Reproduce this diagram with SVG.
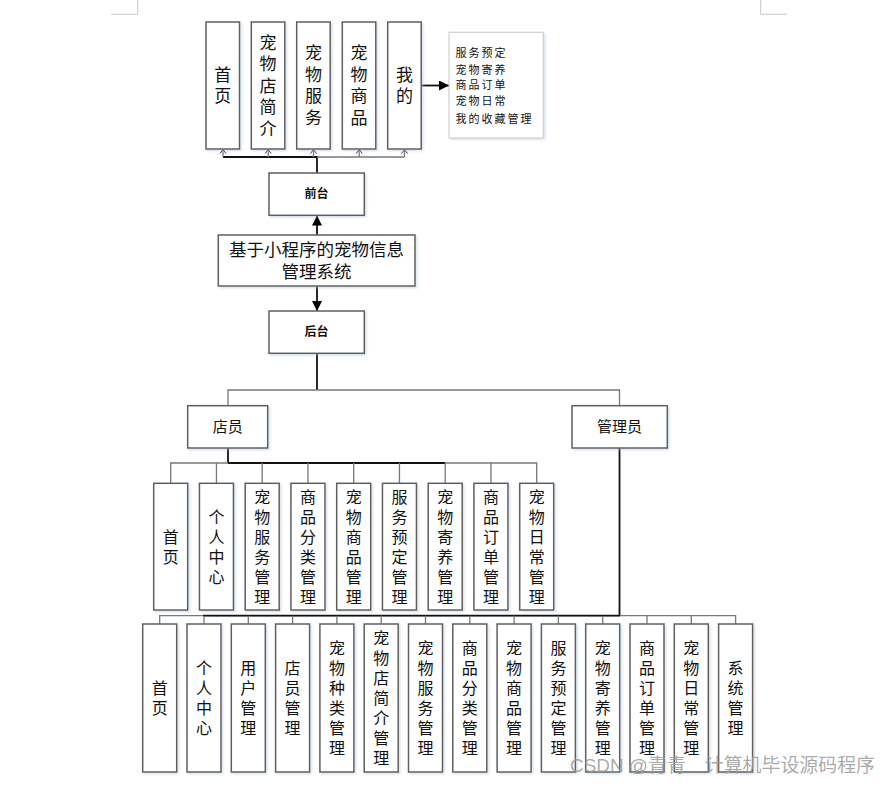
<svg xmlns="http://www.w3.org/2000/svg" width="890" height="786" viewBox="0 0 890 786">
<style>
.box{fill:#fff;stroke:#5f5f5f;stroke-width:1.5;filter:url(#sh)}
.note{fill:#fff;stroke:#c9c9c9;stroke-width:1;filter:url(#sh)}
.t{font-family:"Liberation Serif","Noto Sans CJK SC",serif;fill:#111;text-anchor:middle;dominant-baseline:central}
.top{font-size:17px}
.row{font-size:16px}
.lbl{font-size:15px}
.small{font-size:12px;font-weight:bold}
.main{font-size:17.5px}
.nt{font-family:"Liberation Sans","Noto Sans CJK SC",sans-serif;font-size:11px;letter-spacing:2px;fill:#111;dominant-baseline:central}
.g{stroke:#777;stroke-width:1.3;fill:none}
.k{stroke:#111;stroke-width:1.8;fill:none}
.corner{stroke:#c8c8c8;stroke-width:1;fill:none}
.wm{font-family:"Liberation Sans","Noto Sans CJK SC",sans-serif;font-size:19px;fill:#9a9a9a;fill-opacity:0.85}
</style>
<defs>
<filter id="sh" x="-20%" y="-20%" width="140%" height="140%">
<feDropShadow dx="1.5" dy="1.5" stdDeviation="1" flood-color="#a9bfd6" flood-opacity="0.45"/>
</filter>
<marker id="open" markerWidth="7" markerHeight="8" refX="5.5" refY="4" orient="auto" markerUnits="userSpaceOnUse" viewBox="0 0 7 8">
<path d="M1.5,1 L5.5,4 L1.5,7" fill="none" stroke="#333" stroke-width="1"/>
</marker>
<marker id="fill" markerWidth="10" markerHeight="10" refX="10" refY="5" orient="auto" markerUnits="userSpaceOnUse" viewBox="0 0 10 10">
<path d="M0,0 L10,5 L0,10 Z" fill="#000"/>
</marker>
</defs>
<rect width="890" height="786" fill="#fff"/>
<g id="corners">
<path class="corner" d="M137.7,0 V14.3 H111"/>
<path class="corner" d="M760.7,0 V14.3 H786.7"/>
</g>
<g id="connectors">
<path class="k" d="M317,173 V157 H223"/>
<path class="g" d="M317,157 H404.5"/>
<line class="g" x1="223" y1="157" x2="223" y2="149.5" marker-end="url(#open)"/>
<line class="g" x1="268.2" y1="157" x2="268.2" y2="149.5" marker-end="url(#open)"/>
<line class="g" x1="313.5" y1="157" x2="313.5" y2="149.5" marker-end="url(#open)"/>
<line class="g" x1="359.2" y1="157" x2="359.2" y2="149.5" marker-end="url(#open)"/>
<line class="g" x1="404.5" y1="157" x2="404.5" y2="149.5" marker-end="url(#open)"/>
<line class="k" x1="421.3" y1="85.5" x2="449" y2="85.5" stroke-width="1.3" marker-end="url(#fill)"/>
<line class="k" x1="317" y1="235" x2="317" y2="215.5" stroke-width="1.3" marker-end="url(#fill)"/>
<line class="k" x1="317" y1="286" x2="317" y2="311" stroke-width="1.3" marker-end="url(#fill)"/>
<line class="k" x1="317" y1="353" x2="317" y2="390"/>
<path class="g" d="M228,405.7 V390 H619.5 V405.7"/>
<line class="k" x1="228" y1="448" x2="228" y2="463"/>
<path class="g" d="M170.7,483.3 V463 H536.7 V483.3"/>
<line class="k" x1="228" y1="463" x2="445" y2="463"/>
<path class="g" d="M216.45,463 V483.3 M262.2,463 V483.3 M307.95,463 V483.3 M353.7,463 V483.3 M399.45,463 V483.3 M445.2,463 V483.3 M490.95,463 V483.3"/>
<line class="k" x1="619.5" y1="448" x2="619.5" y2="615.7"/>
<path class="g" d="M159.7,624 V615.7 H735.6 V624"/>
<line class="k" x1="203" y1="615.7" x2="620" y2="615.7"/>
<path class="g" d="M204,615.7 V624 M248.3,615.7 V624 M292.6,615.7 V624 M336.9,615.7 V624 M381.2,615.7 V624 M425.5,615.7 V624 M469.8,615.7 V624 M514.1,615.7 V624 M558.4,615.7 V624 M602.7,615.7 V624 M647,615.7 V624 M691.3,615.7 V624"/>
</g>
<g id="front-home"><rect class="box" x="206" y="22" width="33.5" height="127"/><text class="t top"><tspan x="222.75" y="74.75">首</tspan><tspan x="222.75" y="96.25">页</tspan></text></g>
<g id="front-intro"><rect class="box" x="251.3" y="22" width="33.5" height="127"/><text class="t top"><tspan x="268.05" y="42.5">宠</tspan><tspan x="268.05" y="64">物</tspan><tspan x="268.05" y="85.5">店</tspan><tspan x="268.05" y="107">简</tspan><tspan x="268.05" y="128.5">介</tspan></text></g>
<g id="front-service"><rect class="box" x="296.7" y="22" width="33.5" height="127"/><text class="t top"><tspan x="313.45" y="53.25">宠</tspan><tspan x="313.45" y="74.75">物</tspan><tspan x="313.45" y="96.25">服</tspan><tspan x="313.45" y="117.75">务</tspan></text></g>
<g id="front-goods"><rect class="box" x="342.3" y="22" width="33.5" height="127"/><text class="t top"><tspan x="359.05" y="53.25">宠</tspan><tspan x="359.05" y="74.75">物</tspan><tspan x="359.05" y="96.25">商</tspan><tspan x="359.05" y="117.75">品</tspan></text></g>
<g id="front-mine"><rect class="box" x="387.7" y="22" width="33.5" height="127"/><text class="t top"><tspan x="404.45" y="74.75">我</tspan><tspan x="404.45" y="96.25">的</tspan></text></g>
<g id="mine-note"><rect class="note" x="449" y="32.3" width="94.3" height="105.7"/>
<text class="nt"><tspan x="455.5" y="53.3">服务预定</tspan><tspan x="455.5" y="69.5">宠物寄养</tspan><tspan x="455.5" y="85.2">商品订单</tspan><tspan x="455.5" y="101">宠物日常</tspan><tspan x="455.5" y="118.5">我的收藏管理</tspan></text></g>
<g id="frontend"><rect class="box" x="269" y="173" width="95.3" height="42.3"/><text class="t small" x="316.6" y="194.2">前台</text></g>
<g id="system"><rect class="box" x="218.3" y="235" width="196.7" height="51"/><text class="t main"><tspan x="316.6" y="249.5">基于小程序的宠物信息</tspan><tspan x="316.6" y="272">管理系统</tspan></text></g>
<g id="backend"><rect class="box" x="269" y="311" width="95.3" height="42.3"/><text class="t small" x="316.6" y="332.2">后台</text></g>
<g id="clerk"><rect class="box" x="187.7" y="405.7" width="80" height="42.3"/><text class="t lbl" x="227.7" y="426.8">店员</text></g>
<g id="admin"><rect class="box" x="572" y="405.7" width="95.3" height="42.3"/><text class="t lbl" x="619.6" y="426.8">管理员</text></g>
<g id="c-home"><rect class="box" x="153.7" y="483.3" width="34" height="126.7"/><text class="t row"><tspan x="170.7" y="536.7">首</tspan><tspan x="170.7" y="556.7">页</tspan></text></g>
<g id="c-center"><rect class="box" x="199.45" y="483.3" width="34" height="126.7"/><text class="t row"><tspan x="216.45" y="516.7">个</tspan><tspan x="216.45" y="536.7">人</tspan><tspan x="216.45" y="556.7">中</tspan><tspan x="216.45" y="576.7">心</tspan></text></g>
<g id="c-service"><rect class="box" x="245.2" y="483.3" width="34" height="126.7"/><text class="t row"><tspan x="262.2" y="496.7">宠</tspan><tspan x="262.2" y="516.7">物</tspan><tspan x="262.2" y="536.7">服</tspan><tspan x="262.2" y="556.7">务</tspan><tspan x="262.2" y="576.7">管</tspan><tspan x="262.2" y="596.7">理</tspan></text></g>
<g id="c-category"><rect class="box" x="290.95" y="483.3" width="34" height="126.7"/><text class="t row"><tspan x="307.95" y="496.7">商</tspan><tspan x="307.95" y="516.7">品</tspan><tspan x="307.95" y="536.7">分</tspan><tspan x="307.95" y="556.7">类</tspan><tspan x="307.95" y="576.7">管</tspan><tspan x="307.95" y="596.7">理</tspan></text></g>
<g id="c-goods"><rect class="box" x="336.7" y="483.3" width="34" height="126.7"/><text class="t row"><tspan x="353.7" y="496.7">宠</tspan><tspan x="353.7" y="516.7">物</tspan><tspan x="353.7" y="536.7">商</tspan><tspan x="353.7" y="556.7">品</tspan><tspan x="353.7" y="576.7">管</tspan><tspan x="353.7" y="596.7">理</tspan></text></g>
<g id="c-booking"><rect class="box" x="382.45" y="483.3" width="34" height="126.7"/><text class="t row"><tspan x="399.45" y="496.7">服</tspan><tspan x="399.45" y="516.7">务</tspan><tspan x="399.45" y="536.7">预</tspan><tspan x="399.45" y="556.7">定</tspan><tspan x="399.45" y="576.7">管</tspan><tspan x="399.45" y="596.7">理</tspan></text></g>
<g id="c-boarding"><rect class="box" x="428.2" y="483.3" width="34" height="126.7"/><text class="t row"><tspan x="445.2" y="496.7">宠</tspan><tspan x="445.2" y="516.7">物</tspan><tspan x="445.2" y="536.7">寄</tspan><tspan x="445.2" y="556.7">养</tspan><tspan x="445.2" y="576.7">管</tspan><tspan x="445.2" y="596.7">理</tspan></text></g>
<g id="c-orders"><rect class="box" x="473.95" y="483.3" width="34" height="126.7"/><text class="t row"><tspan x="490.95" y="496.7">商</tspan><tspan x="490.95" y="516.7">品</tspan><tspan x="490.95" y="536.7">订</tspan><tspan x="490.95" y="556.7">单</tspan><tspan x="490.95" y="576.7">管</tspan><tspan x="490.95" y="596.7">理</tspan></text></g>
<g id="c-daily"><rect class="box" x="519.7" y="483.3" width="34" height="126.7"/><text class="t row"><tspan x="536.7" y="496.7">宠</tspan><tspan x="536.7" y="516.7">物</tspan><tspan x="536.7" y="536.7">日</tspan><tspan x="536.7" y="556.7">常</tspan><tspan x="536.7" y="576.7">管</tspan><tspan x="536.7" y="596.7">理</tspan></text></g>
<g id="a-home"><rect class="box" x="142.7" y="624" width="34" height="148"/><text class="t row"><tspan x="159.7" y="688">首</tspan><tspan x="159.7" y="708">页</tspan></text></g>
<g id="a-center"><rect class="box" x="187" y="624" width="34" height="148"/><text class="t row"><tspan x="204" y="668">个</tspan><tspan x="204" y="688">人</tspan><tspan x="204" y="708">中</tspan><tspan x="204" y="728">心</tspan></text></g>
<g id="a-users"><rect class="box" x="231.3" y="624" width="34" height="148"/><text class="t row"><tspan x="248.3" y="668">用</tspan><tspan x="248.3" y="688">户</tspan><tspan x="248.3" y="708">管</tspan><tspan x="248.3" y="728">理</tspan></text></g>
<g id="a-clerks"><rect class="box" x="275.6" y="624" width="34" height="148"/><text class="t row"><tspan x="292.6" y="668">店</tspan><tspan x="292.6" y="688">员</tspan><tspan x="292.6" y="708">管</tspan><tspan x="292.6" y="728">理</tspan></text></g>
<g id="a-species"><rect class="box" x="319.9" y="624" width="34" height="148"/><text class="t row"><tspan x="336.9" y="648">宠</tspan><tspan x="336.9" y="668">物</tspan><tspan x="336.9" y="688">种</tspan><tspan x="336.9" y="708">类</tspan><tspan x="336.9" y="728">管</tspan><tspan x="336.9" y="748">理</tspan></text></g>
<g id="a-intro"><rect class="box" x="364.2" y="624" width="34" height="148"/><text class="t row"><tspan x="381.2" y="638">宠</tspan><tspan x="381.2" y="658">物</tspan><tspan x="381.2" y="678">店</tspan><tspan x="381.2" y="698">简</tspan><tspan x="381.2" y="718">介</tspan><tspan x="381.2" y="738">管</tspan><tspan x="381.2" y="758">理</tspan></text></g>
<g id="a-service"><rect class="box" x="408.5" y="624" width="34" height="148"/><text class="t row"><tspan x="425.5" y="648">宠</tspan><tspan x="425.5" y="668">物</tspan><tspan x="425.5" y="688">服</tspan><tspan x="425.5" y="708">务</tspan><tspan x="425.5" y="728">管</tspan><tspan x="425.5" y="748">理</tspan></text></g>
<g id="a-category"><rect class="box" x="452.8" y="624" width="34" height="148"/><text class="t row"><tspan x="469.8" y="648">商</tspan><tspan x="469.8" y="668">品</tspan><tspan x="469.8" y="688">分</tspan><tspan x="469.8" y="708">类</tspan><tspan x="469.8" y="728">管</tspan><tspan x="469.8" y="748">理</tspan></text></g>
<g id="a-goods"><rect class="box" x="497.1" y="624" width="34" height="148"/><text class="t row"><tspan x="514.1" y="648">宠</tspan><tspan x="514.1" y="668">物</tspan><tspan x="514.1" y="688">商</tspan><tspan x="514.1" y="708">品</tspan><tspan x="514.1" y="728">管</tspan><tspan x="514.1" y="748">理</tspan></text></g>
<g id="a-booking"><rect class="box" x="541.4" y="624" width="34" height="148"/><text class="t row"><tspan x="558.4" y="648">服</tspan><tspan x="558.4" y="668">务</tspan><tspan x="558.4" y="688">预</tspan><tspan x="558.4" y="708">定</tspan><tspan x="558.4" y="728">管</tspan><tspan x="558.4" y="748">理</tspan></text></g>
<g id="a-boarding"><rect class="box" x="585.7" y="624" width="34" height="148"/><text class="t row"><tspan x="602.7" y="648">宠</tspan><tspan x="602.7" y="668">物</tspan><tspan x="602.7" y="688">寄</tspan><tspan x="602.7" y="708">养</tspan><tspan x="602.7" y="728">管</tspan><tspan x="602.7" y="748">理</tspan></text></g>
<g id="a-orders"><rect class="box" x="630" y="624" width="34" height="148"/><text class="t row"><tspan x="647" y="648">商</tspan><tspan x="647" y="668">品</tspan><tspan x="647" y="688">订</tspan><tspan x="647" y="708">单</tspan><tspan x="647" y="728">管</tspan><tspan x="647" y="748">理</tspan></text></g>
<g id="a-daily"><rect class="box" x="674.3" y="624" width="34" height="148"/><text class="t row"><tspan x="691.3" y="648">宠</tspan><tspan x="691.3" y="668">物</tspan><tspan x="691.3" y="688">日</tspan><tspan x="691.3" y="708">常</tspan><tspan x="691.3" y="728">管</tspan><tspan x="691.3" y="748">理</tspan></text></g>
<g id="a-system"><rect class="box" x="718.6" y="624" width="34" height="148"/><text class="t row"><tspan x="735.6" y="668">系</tspan><tspan x="735.6" y="688">统</tspan><tspan x="735.6" y="708">管</tspan><tspan x="735.6" y="728">理</tspan></text></g>
<text class="wm" x="570" y="772" textLength="305" lengthAdjust="spacingAndGlyphs">CSDN @青青　计算机毕设源码程序</text>
</svg>
